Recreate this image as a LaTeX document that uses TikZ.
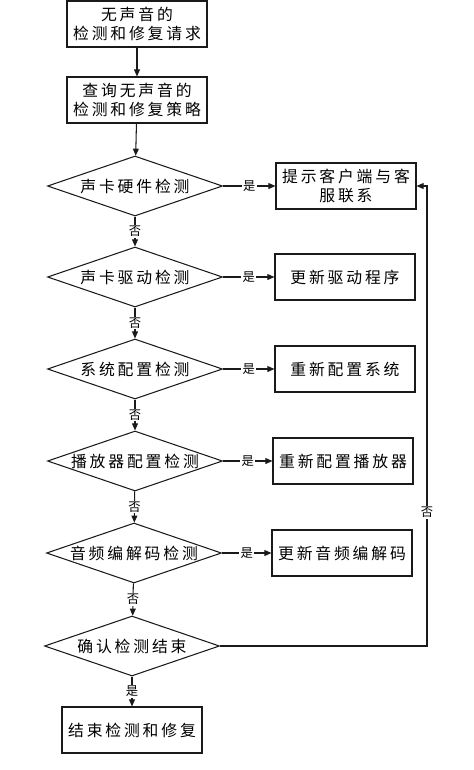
\documentclass[tikz,border=0pt]{standalone}
\usepackage{fontspec}
\newfontfamily\cjkfont[LetterSpace=18]{Noto Sans CJK SC}
\usetikzlibrary{arrows.meta,shapes.geometric}
\definecolor{FlowLine}{HTML}{1A1A1A}
\begin{document}
\begin{tikzpicture}[x=0.03cm,y=-0.03cm,
    font=\cjkfont\fontsize{13.5}{16}\selectfont,
    stepbox/.style={draw=FlowLine,line width=0.9pt,align=center,
      minimum width=4.2cm,minimum height=1.38cm,inner sep=1pt},
    testbox/.style={diamond,draw=FlowLine,line width=0.9pt,aspect=2.9,
      inner sep=0pt,minimum width=5.25cm,minimum height=1.8cm},
    flow/.style={draw=FlowLine,line width=0.9pt,-{Triangle[length=6pt,width=5pt]}},
    tag/.style={fill=white,inner sep=1pt,font=\cjkfont\fontsize{10.5}{11}\selectfont}]
  \useasboundingbox (0,0) rectangle (474,770);
  % main column
  \node[stepbox] (req) at (137,24) {无声音的\\检测和修复请求};
  \node[stepbox] (qry) at (137,100) {查询无声音的\\检测和修复策略};
  \node[testbox] (hw)  at (135,186) {声卡硬件检测};
  \node[testbox] (drv) at (135,277) {声卡驱动检测};
  \node[testbox] (sys) at (135,369) {系统配置检测};
  \node[testbox] (ply) at (135,461) {播放器配置检测};
  \node[testbox] (cdc) at (134,553) {音频编解码检测};
  \node[testbox] (chk) at (132,646) {确认检测结束};
  \node[stepbox] (fin) at (132,730) {结束检测和修复};
  % repair actions
  \node[stepbox] (svc) at (346,186) {提示客户端与客\\服联系};
  \node[stepbox] (upd) at (345,277) {更新驱动程序};
  \node[stepbox] (cfg) at (345,369) {重新配置系统};
  \node[stepbox] (rpl) at (343,461) {重新配置播放器};
  \node[stepbox] (rcd) at (342,553) {更新音频编解码};
  \coordinate (loop) at (427,646);

  \draw[flow] (req) -- (qry);
  \draw[flow] (qry) -- (hw);
  \draw[flow] (hw)  -- node[tag]{否} (drv);
  \draw[flow] (drv) -- node[tag]{否} (sys);
  \draw[flow] (sys) -- node[tag]{否} (ply);
  \draw[flow] (ply) -- node[tag]{否} (cdc);
  \draw[flow] (cdc) -- node[tag]{否} (chk);
  \draw[flow] (chk) -- node[tag]{是} (fin);
  \draw[flow] (hw)  -- node[tag]{是} (svc);
  \draw[flow] (drv) -- node[tag]{是} (upd);
  \draw[flow] (sys) -- node[tag]{是} (cfg);
  \draw[flow] (ply) -- node[tag]{是} (rpl);
  \draw[flow] (cdc) -- node[tag]{是} (rcd);
  \draw[flow] (chk.east) -- (loop) |- node[tag,pos=0.145]{否} (svc.east);
\end{tikzpicture}
\end{document}
